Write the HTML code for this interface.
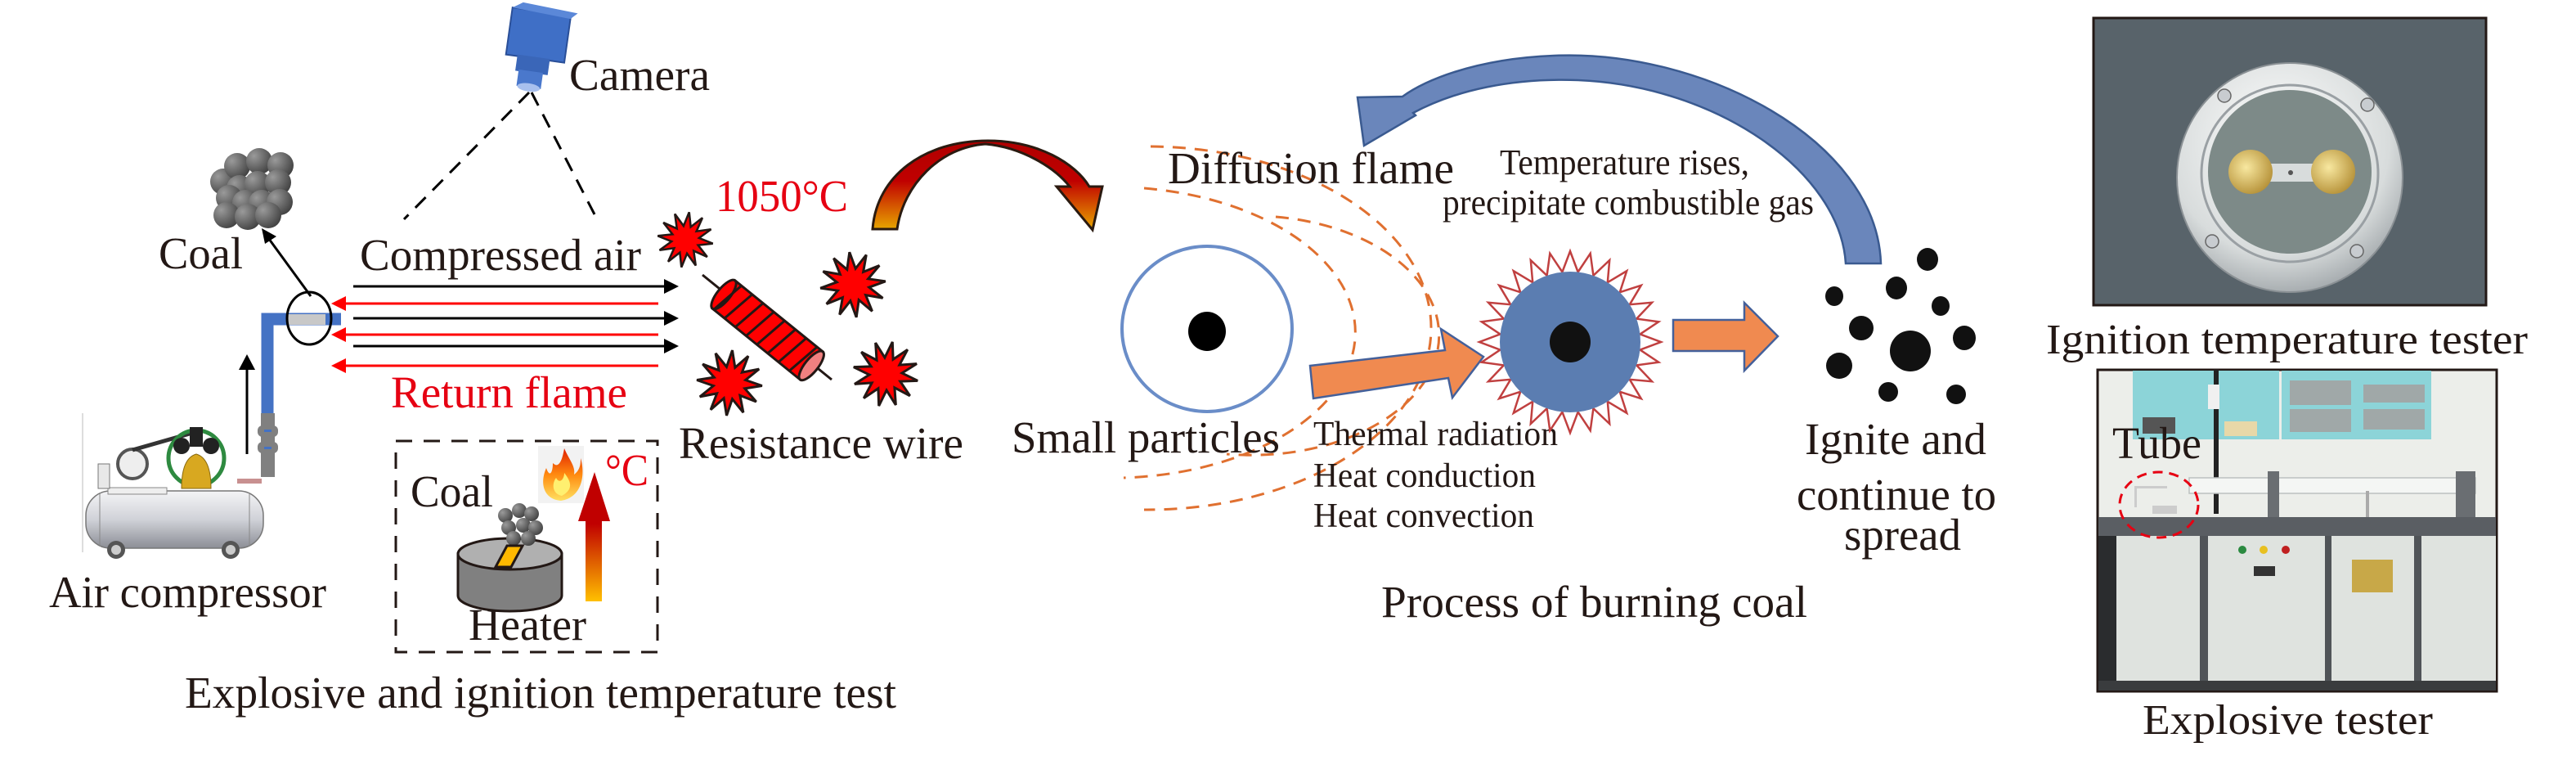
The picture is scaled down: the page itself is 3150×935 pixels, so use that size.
<!DOCTYPE html>
<html><head><meta charset="utf-8"><style>
html,body{margin:0;padding:0;background:#fff}
svg{display:block}
text{font-family:"Liberation Serif",serif;fill:#231815}
</style></head><body>
<svg width="3150" height="935" viewBox="0 0 3150 935" xmlns="http://www.w3.org/2000/svg">
<defs>
<radialGradient id="coal" cx="0.3" cy="0.3" r="0.8"><stop offset="0" stop-color="#9a9a9a"/><stop offset="1" stop-color="#3e3e3e"/></radialGradient>
<linearGradient id="redarc" x1="0" y1="0" x2="0" y2="1"><stop offset="0" stop-color="#b00000"/><stop offset="0.45" stop-color="#c00000"/><stop offset="1" stop-color="#e8a800"/></linearGradient>
<linearGradient id="uparr" x1="0" y1="0" x2="0" y2="1"><stop offset="0" stop-color="#c00000"/><stop offset="0.4" stop-color="#c00000"/><stop offset="1" stop-color="#ffc000"/></linearGradient>
<linearGradient id="tank" x1="0" y1="0" x2="0" y2="1"><stop offset="0" stop-color="#f4f4f6"/><stop offset="0.5" stop-color="#d0d2d8"/><stop offset="1" stop-color="#8c8e96"/></linearGradient>
<radialGradient id="ring" cx="0.45" cy="0.35" r="0.7"><stop offset="0" stop-color="#ffffff"/><stop offset="0.7" stop-color="#d8dcdc"/><stop offset="1" stop-color="#9aa0a4"/></radialGradient>
<radialGradient id="gold" cx="0.4" cy="0.4" r="0.7"><stop offset="0" stop-color="#f8e8a0"/><stop offset="1" stop-color="#b08a30"/></radialGradient>
<linearGradient id="flame" x1="0" y1="1" x2="0" y2="0"><stop offset="0" stop-color="#ffe060"/><stop offset="0.5" stop-color="#ff8a10"/><stop offset="1" stop-color="#e02000"/></linearGradient>
<polygon id="burst" points="40,0 19.3,5.2 34.6,20 14.2,14.2 20,34.6 5.2,19.3 0,40 -5.2,19.3 -20,34.6 -14.2,14.2 -34.6,20 -19.3,5.2 -40,0 -19.3,-5.2 -34.6,-20 -14.2,-14.2 -20,-34.6 -5.2,-19.3 0,-40 5.2,-19.3 20,-34.6 14.2,-14.2 34.6,-20 19.3,-5.2" fill="#ff0000" stroke="#231815" stroke-width="3" stroke-linejoin="miter"/>
<marker id="ab" markerWidth="8" markerHeight="8" refX="6" refY="4" orient="auto" markerUnits="userSpaceOnUse" viewBox="0 0 8 8"><path d="M0,0 L8,4 L0,8 Z" fill="#000"/></marker>
</defs>

<!-- Camera -->
<g transform="rotate(8 658 60)">
<rect x="620" y="14" width="72" height="58" fill="#3f6fc6" stroke="#2a4f98" stroke-width="2"/>
<polygon points="620,14 632,6 700,10 692,18" fill="#5b88d8"/>
<rect x="634" y="70" width="40" height="20" fill="#3a66b8"/>
<rect x="638" y="88" width="30" height="20" fill="#4a78cc"/>
<ellipse cx="653" cy="108" rx="14" ry="5" fill="#a8c0ee"/>
</g>
<text x="696" y="110" font-size="55" textLength="172" lengthAdjust="spacingAndGlyphs">Camera</text>
<line x1="647" y1="113" x2="494" y2="268" stroke="#000" stroke-width="3" stroke-dasharray="18,12"/>
<line x1="650" y1="113" x2="727" y2="262" stroke="#000" stroke-width="3" stroke-dasharray="18,12"/>

<!-- Coal cluster -->
<g fill="url(#coal)">
<circle cx="273" cy="222" r="16"/><circle cx="290" cy="203" r="16"/><circle cx="317" cy="197" r="16"/><circle cx="343" cy="202" r="16"/>
<circle cx="293" cy="230" r="16"/><circle cx="315" cy="225" r="16"/><circle cx="340" cy="223" r="16"/>
<circle cx="280" cy="242" r="16"/><circle cx="300" cy="248" r="16"/><circle cx="320" cy="248" r="16"/><circle cx="342" cy="247" r="16"/>
<circle cx="277" cy="263" r="16"/><circle cx="303" cy="265" r="16"/><circle cx="328" cy="263" r="16"/>
</g>
<text x="194" y="328" font-size="55" textLength="103" lengthAdjust="spacingAndGlyphs">Coal</text>
<line x1="380" y1="362" x2="326" y2="288" stroke="#000" stroke-width="3"/>
<polygon points="320,279 338,289 324,298" fill="#000"/>

<!-- pipe -->
<path d="M417,390 H327 V507" fill="none" stroke="#4472c4" stroke-width="15"/>
<rect x="352" y="384" width="46" height="13" fill="#c8c8c8"/>
<ellipse cx="378" cy="389" rx="27" ry="32" fill="none" stroke="#000" stroke-width="3"/>
<rect x="319" y="505" width="17" height="78" fill="#808080"/>
<rect x="315" y="520" width="25" height="14" rx="6" fill="#808080"/><rect x="315" y="540" width="25" height="14" rx="6" fill="#808080"/>
<rect x="323" y="525" width="9" height="3" fill="#4472c4"/><rect x="323" y="546" width="9" height="3" fill="#4472c4"/>
<line x1="302" y1="555" x2="302" y2="450" stroke="#000" stroke-width="3"/>
<polygon points="292,452 312,452 302,433" fill="#000"/>

<!-- Air compressor -->
<rect x="100" y="505" width="2" height="170" fill="#ddd"/>
<rect x="105" y="600" width="217" height="70" rx="30" fill="url(#tank)" stroke="#777" stroke-width="1.5"/>
<line x1="122" y1="602" x2="122" y2="668" stroke="#888"/><line x1="305" y1="602" x2="305" y2="668" stroke="#888"/>
<rect x="132" y="596" width="72" height="8" fill="#eee" stroke="#888"/>
<circle cx="142" cy="672" r="11" fill="#555"/><circle cx="142" cy="672" r="6" fill="#ccc"/>
<circle cx="282" cy="672" r="11" fill="#555"/><circle cx="282" cy="672" r="6" fill="#ccc"/>
<rect x="120" y="567" width="14" height="30" fill="#e8e8e8" stroke="#777"/>
<circle cx="162" cy="567" r="18" fill="#eee" stroke="#555" stroke-width="4"/>
<line x1="162" y1="550" x2="232" y2="530" stroke="#333" stroke-width="5"/>
<circle cx="240" cy="560" r="34" fill="none" stroke="#2e8a40" stroke-width="5"/>
<path d="M222,597 Q222,560 240,555 Q258,560 258,597 Z" fill="#d8a820" stroke="#8a6a10"/>
<circle cx="222" cy="545" r="10" fill="#222"/><circle cx="258" cy="545" r="10" fill="#222"/><rect x="232" y="522" width="16" height="24" fill="#222"/>
<rect x="290" y="585" width="30" height="6" fill="#c89090"/>
<text x="60" y="742" font-size="55" textLength="339" lengthAdjust="spacingAndGlyphs">Air compressor</text>

<!-- air / return flame arrows -->
<g stroke-width="3">
<line x1="432" y1="350" x2="815" y2="350" stroke="#000"/><polygon points="812,341 830,350 812,359" fill="#000"/>
<line x1="432" y1="389" x2="815" y2="389" stroke="#000"/><polygon points="812,380 830,389 812,398" fill="#000"/>
<line x1="432" y1="423" x2="815" y2="423" stroke="#000"/><polygon points="812,414 830,423 812,432" fill="#000"/>
<line x1="420" y1="371" x2="805" y2="371" stroke="#ff0000"/><polygon points="423,362 405,371 423,380" fill="#ff0000"/>
<line x1="420" y1="409" x2="805" y2="409" stroke="#ff0000"/><polygon points="423,400 405,409 423,418" fill="#ff0000"/>
<line x1="420" y1="447" x2="805" y2="447" stroke="#ff0000"/><polygon points="423,438 405,447 423,456" fill="#ff0000"/>
</g>
<text x="440" y="330" font-size="55" textLength="344" lengthAdjust="spacingAndGlyphs">Compressed air</text>
<text x="478" y="498" font-size="55" textLength="289" lengthAdjust="spacingAndGlyphs" style="fill:#e60012">Return flame</text>
<text x="875" y="258" font-size="55" textLength="162" lengthAdjust="spacingAndGlyphs" style="fill:#e60012">1050°C</text>

<!-- resistance wire -->
<line x1="859" y1="336" x2="1017" y2="464" stroke="#231815" stroke-width="3"/>
<g transform="translate(885,360) rotate(39)">
<rect x="0" y="-22" width="138" height="44" fill="#ff0000" stroke="#231815" stroke-width="3"/>
<ellipse cx="0" cy="0" rx="8" ry="22" fill="#ff0000" stroke="#231815" stroke-width="3"/>
<g stroke="#231815" stroke-width="3">
<line x1="10" y1="-22" x2="2" y2="22"/><line x1="27" y1="-22" x2="19" y2="22"/><line x1="44" y1="-22" x2="36" y2="22"/><line x1="61" y1="-22" x2="53" y2="22"/><line x1="78" y1="-22" x2="70" y2="22"/><line x1="95" y1="-22" x2="87" y2="22"/><line x1="112" y1="-22" x2="104" y2="22"/><line x1="129" y1="-22" x2="121" y2="22"/>
</g>
<ellipse cx="138" cy="0" rx="8" ry="22" fill="#f08080" stroke="#231815" stroke-width="3"/>
</g>
<use href="#burst" transform="translate(838,293) scale(0.85) rotate(8)"/>
<use href="#burst" transform="translate(1043,348) rotate(-6)"/>
<use href="#burst" transform="translate(892,468) rotate(5)"/>
<use href="#burst" transform="translate(1083,457) rotate(12)"/>
<text x="830" y="560" font-size="55" textLength="348" lengthAdjust="spacingAndGlyphs">Resistance wire</text>

<!-- heater box -->
<rect x="484" y="539" width="320" height="258" fill="none" stroke="#231815" stroke-width="3" stroke-dasharray="20,14"/>
<text x="502" y="619" font-size="55" textLength="101" lengthAdjust="spacingAndGlyphs">Coal</text>
<path d="M560,677 V728 A63.5,19 0 0 0 687,728 V677 Z" fill="#808080" stroke="#231815" stroke-width="3"/>
<ellipse cx="623.5" cy="677" rx="63.5" ry="19" fill="#b0b0b0" stroke="#231815" stroke-width="3"/>
<g fill="url(#coal)">
<circle cx="618" cy="630" r="9"/><circle cx="635" cy="624" r="9"/><circle cx="650" cy="628" r="9"/><circle cx="622" cy="645" r="9"/><circle cx="640" cy="642" r="9"/><circle cx="655" cy="645" r="9"/><circle cx="628" cy="658" r="9"/><circle cx="646" cy="658" r="9"/>
</g>
<polygon points="606,693 620,667 639,667 625,693" fill="#ffb800" stroke="#231815" stroke-width="3"/>
<rect x="658" y="545" width="56" height="70" fill="#f2f2f2"/>
<path d="M686,612 C664,610 660,590 668,572 C672,584 676,578 676,566 C684,574 688,560 690,548 C696,562 704,570 702,580 C710,574 710,566 710,560 C716,580 712,608 686,612 Z" fill="url(#flame)"/>
<path d="M687,606 C676,604 674,592 680,584 C684,592 690,586 690,578 C698,588 702,598 687,606 Z" fill="#fff070"/>
<polygon points="716,735 736,735 736,637 746,637 727,577 707,637 716,637" fill="url(#uparr)"/>
<text x="740" y="593" font-size="55" textLength="53" lengthAdjust="spacingAndGlyphs" style="fill:#e60012">°C</text>
<text x="573" y="782" font-size="55" textLength="144" lengthAdjust="spacingAndGlyphs">Heater</text>
<text x="226" y="865" font-size="55" textLength="870" lengthAdjust="spacingAndGlyphs">Explosive and ignition temperature test</text>

<!-- red curved arrow -->
<path d="M1067,280 C1072,215 1130,172 1208,172 C1270,172 1315,200 1332,228 L1348,228 L1336,281 L1292,228 L1308,228 C1290,205 1250,180 1205,176 C1150,180 1105,225 1097,280 Z" fill="url(#redarc)" stroke="#2a1a10" stroke-width="3" stroke-linejoin="miter"/>

<!-- diffusion arcs -->
<g fill="none" stroke="#e07030" stroke-width="3" stroke-dasharray="16,11">
<path d="M1407,179 A347,222 0 0 1 1399,623"/>
<path d="M1399,230 A300,178 0 0 1 1374,584"/>
<path d="M1560,265 A220,140 0 0 1 1500,555"/>
</g>
<ellipse cx="1476" cy="402" rx="104" ry="101" fill="none" stroke="#6a8dc8" stroke-width="4"/>
<ellipse cx="1476" cy="405" rx="23" ry="24" fill="#000"/>
<text x="1428" y="224" font-size="55" textLength="350" lengthAdjust="spacingAndGlyphs">Diffusion flame</text>
<text x="1834" y="213" font-size="44" textLength="305" lengthAdjust="spacingAndGlyphs">Temperature rises,</text>
<text x="1764" y="262" font-size="44" textLength="454" lengthAdjust="spacingAndGlyphs">precipitate combustible gas</text>
<text x="1237" y="553" font-size="55" textLength="328" lengthAdjust="spacingAndGlyphs">Small particles</text>
<text x="1606" y="544" font-size="42" textLength="299" lengthAdjust="spacingAndGlyphs">Thermal radiation</text>
<text x="1606" y="595" font-size="42" textLength="272" lengthAdjust="spacingAndGlyphs">Heat conduction</text>
<text x="1606" y="644" font-size="42" textLength="270" lengthAdjust="spacingAndGlyphs">Heat convection</text>

<!-- orange arrows -->
<polygon points="1602,447 1767,428 1762,402 1814,436 1776,486 1771,462 1606,487" fill="#f08a50" stroke="#44609a" stroke-width="2.5"/>
<polygon points="2046,391 2133,391 2133,370 2174,411 2133,453 2133,429 2046,429" fill="#f08a50" stroke="#44609a" stroke-width="2.5"/>

<!-- burning particle -->
<polygon id="spk" fill="#fff" stroke="#c04040" stroke-width="2.5" points=""/>
<circle cx="1920" cy="418" r="86" fill="#5b7db1"/>
<circle cx="1920" cy="418" r="25" fill="#111"/>

<!-- black dots -->
<g fill="#111">
<ellipse cx="2357" cy="317" rx="13" ry="14"/><ellipse cx="2319" cy="352" rx="13" ry="14"/><ellipse cx="2243" cy="362" rx="11" ry="12"/>
<ellipse cx="2373" cy="374" rx="11" ry="12"/><ellipse cx="2276" cy="401" rx="15" ry="15"/><ellipse cx="2336" cy="429" rx="25" ry="25"/>
<ellipse cx="2402" cy="413" rx="14" ry="15"/><ellipse cx="2249" cy="447" rx="16" ry="16"/><ellipse cx="2309" cy="479" rx="12" ry="12"/><ellipse cx="2392" cy="482" rx="12" ry="12"/>
</g>
<text x="2207" y="555" font-size="55" textLength="222" lengthAdjust="spacingAndGlyphs">Ignite and</text>
<text x="2197" y="623" font-size="55" textLength="244" lengthAdjust="spacingAndGlyphs">continue to</text>
<text x="2255" y="672" font-size="55" textLength="143" lengthAdjust="spacingAndGlyphs">spread</text>
<text x="1689" y="754" font-size="55" textLength="521" lengthAdjust="spacingAndGlyphs">Process of burning coal</text>

<!-- blue curved arrow -->
<path d="M2300,322 C2295,170 2080,60 1900,68 C1800,72 1740,100 1715,118 L1660,119 L1668,178 L1731,141 L1728,138 C1780,110 1850,95 1930,98 C2100,105 2250,210 2257,322 Z" fill="#6a86bb" stroke="#3a5a90" stroke-width="2.5" stroke-linejoin="miter"/>

<!-- photo 1 -->
<rect x="2560" y="22" width="480" height="351" fill="#58636a" stroke="#231815" stroke-width="3"/>
<ellipse cx="2800" cy="217" rx="138" ry="140" fill="url(#ring)" stroke="#8a9094" stroke-width="2"/>
<ellipse cx="2800" cy="212" rx="108" ry="108" fill="none" stroke="#9aa0a4" stroke-width="3"/>
<ellipse cx="2800" cy="210" rx="100" ry="100" fill="#7d8a88"/>
<rect x="2760" y="200" width="90" height="22" fill="#d8dcdc"/>
<circle cx="2752" cy="210" r="27" fill="url(#gold)"/><circle cx="2853" cy="210" r="27" fill="url(#gold)"/>
<circle cx="2801" cy="211" r="3" fill="#555"/>
<g fill="#c8ccd0" stroke="#666" stroke-width="1.5"><circle cx="2720" cy="117" r="8"/><circle cx="2895" cy="128" r="8"/><circle cx="2705" cy="295" r="8"/><circle cx="2882" cy="307" r="8"/></g>
<text x="2502" y="432" font-size="52" textLength="589" lengthAdjust="spacingAndGlyphs">Ignition temperature tester</text>

<!-- photo 2 -->
<rect x="2565" y="452" width="488" height="393" fill="#eceeea" stroke="#231815" stroke-width="3"/>
<rect x="2608" y="453" width="179" height="84" fill="#8cd4d8"/>
<rect x="2790" y="453" width="183" height="84" fill="#8cd4d8"/>
<rect x="2620" y="510" width="40" height="20" fill="#555"/>
<rect x="2720" y="515" width="40" height="18" fill="#e8d8a8"/>
<rect x="2800" y="465" width="75" height="30" fill="#a0a8a8"/><rect x="2800" y="500" width="75" height="28" fill="#a0a8a8"/>
<rect x="2890" y="470" width="75" height="22" fill="#a0a8a8"/><rect x="2890" y="500" width="75" height="25" fill="#a0a8a8"/>
<rect x="2707" y="452" width="6" height="176" fill="#222"/>
<rect x="2700" y="470" width="14" height="30" fill="#f0f0f0"/>
<rect x="2677" y="584" width="350" height="19" fill="#f4f6f4" stroke="#bcc0c0" stroke-width="1.5"/>
<rect x="2773" y="576" width="14" height="56" fill="#6a6e72"/><rect x="3003" y="576" width="24" height="56" fill="#6a6e72"/>
<rect x="2893" y="600" width="4" height="32" fill="#aaa"/>
<rect x="2610" y="595" width="3" height="25" fill="#ccc"/><rect x="2610" y="594" width="40" height="3" fill="#ccc"/>
<rect x="2632" y="618" width="30" height="10" fill="#ccc"/>
<rect x="2566" y="632" width="486" height="23" fill="#5a5e63"/>
<rect x="2566" y="655" width="486" height="178" fill="#dfe3df"/>
<rect x="2566" y="655" width="22" height="178" fill="#2a2c2e"/>
<rect x="2690" y="655" width="10" height="178" fill="#505458"/>
<rect x="2843" y="655" width="8" height="178" fill="#505458"/>
<rect x="2952" y="655" width="9" height="178" fill="#505458"/>
<rect x="2566" y="832" width="486" height="12" fill="#3a3c3e"/>
<circle cx="2742" cy="672" r="5" fill="#2a8a40"/><circle cx="2768" cy="672" r="5" fill="#e8c020"/><circle cx="2795" cy="672" r="5" fill="#c02020"/>
<rect x="2756" y="692" width="26" height="12" fill="#333"/>
<rect x="2876" y="684" width="50" height="40" fill="#c8a848"/>
<text x="2583" y="560" font-size="55" textLength="109" lengthAdjust="spacingAndGlyphs">Tube</text>
<ellipse cx="2640" cy="617" rx="48" ry="40" fill="none" stroke="#e60012" stroke-width="3" stroke-dasharray="12,8"/>
<text x="2620" y="897" font-size="52" textLength="355" lengthAdjust="spacingAndGlyphs">Explosive tester</text>
</svg>
<script>
(function(){var p=[],cx=1920,cy=418,n=28;for(var i=0;i<2*n;i++){var a=Math.PI*i/n-Math.PI/2,r=i%2?86:111;p.push((cx+r*Math.cos(a)).toFixed(1)+','+(cy+r*Math.sin(a)).toFixed(1));}document.getElementById('spk').setAttribute('points',p.join(' '));})();
</script>
</body></html>
